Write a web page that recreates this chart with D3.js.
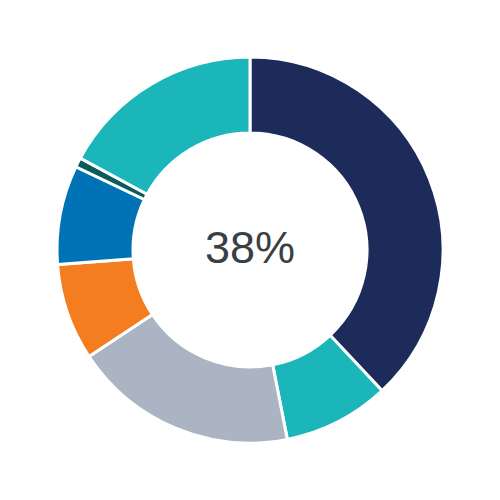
<!DOCTYPE html>
<html lang="en">
<head>
<meta charset="UTF-8"/>
<title>Donut</title>
<script src="https://d3js.org/d3.v7.min.js"></script>
<style>
  body { margin: 0; background: #ffffff; }
</style>
</head>
<body>
<script>
var categories = ["A", "B", "C", "D", "E", "F", "G"];
var values = [38, 8.9, 18.8, 8.1, 8.3, 0.8, 17.1];
var colors = ["#1c2b5a", "#1ab6b9", "#aab4c2", "#f47d20", "#0073b6", "#0b5a5c", "#1ab6b9"];
var centerLabel = "38%";

var w = 500, h = 500;
var outerR = 193, innerR = 117;

var svg = d3.select("body").append("svg")
    .attr("width", w)
    .attr("height", h);

var g = svg.append("g").attr("transform", "translate(250,250)");

var pie = d3.pie().sort(null).value(function(d){ return d; });
var arc = d3.arc().innerRadius(innerR).outerRadius(outerR);

var color = d3.scaleOrdinal().domain(d3.range(categories.length)).range(colors);

g.selectAll("path")
  .data(pie(values))
  .enter()
  .append("path")
  .attr("d", arc)
  .attr("fill", function(d, i){ return color(i); })
  .attr("stroke", "#ffffff")
  .attr("stroke-width", 3);

g.append("text")
  .attr("x", 0)
  .attr("y", 13)
  .attr("text-anchor", "middle")
  .attr("font-family", "Liberation Sans, Arial, sans-serif")
  .attr("font-size", 45)
  .attr("fill", "#3a3f45")
  .text(centerLabel);
</script>
</body>
</html>
